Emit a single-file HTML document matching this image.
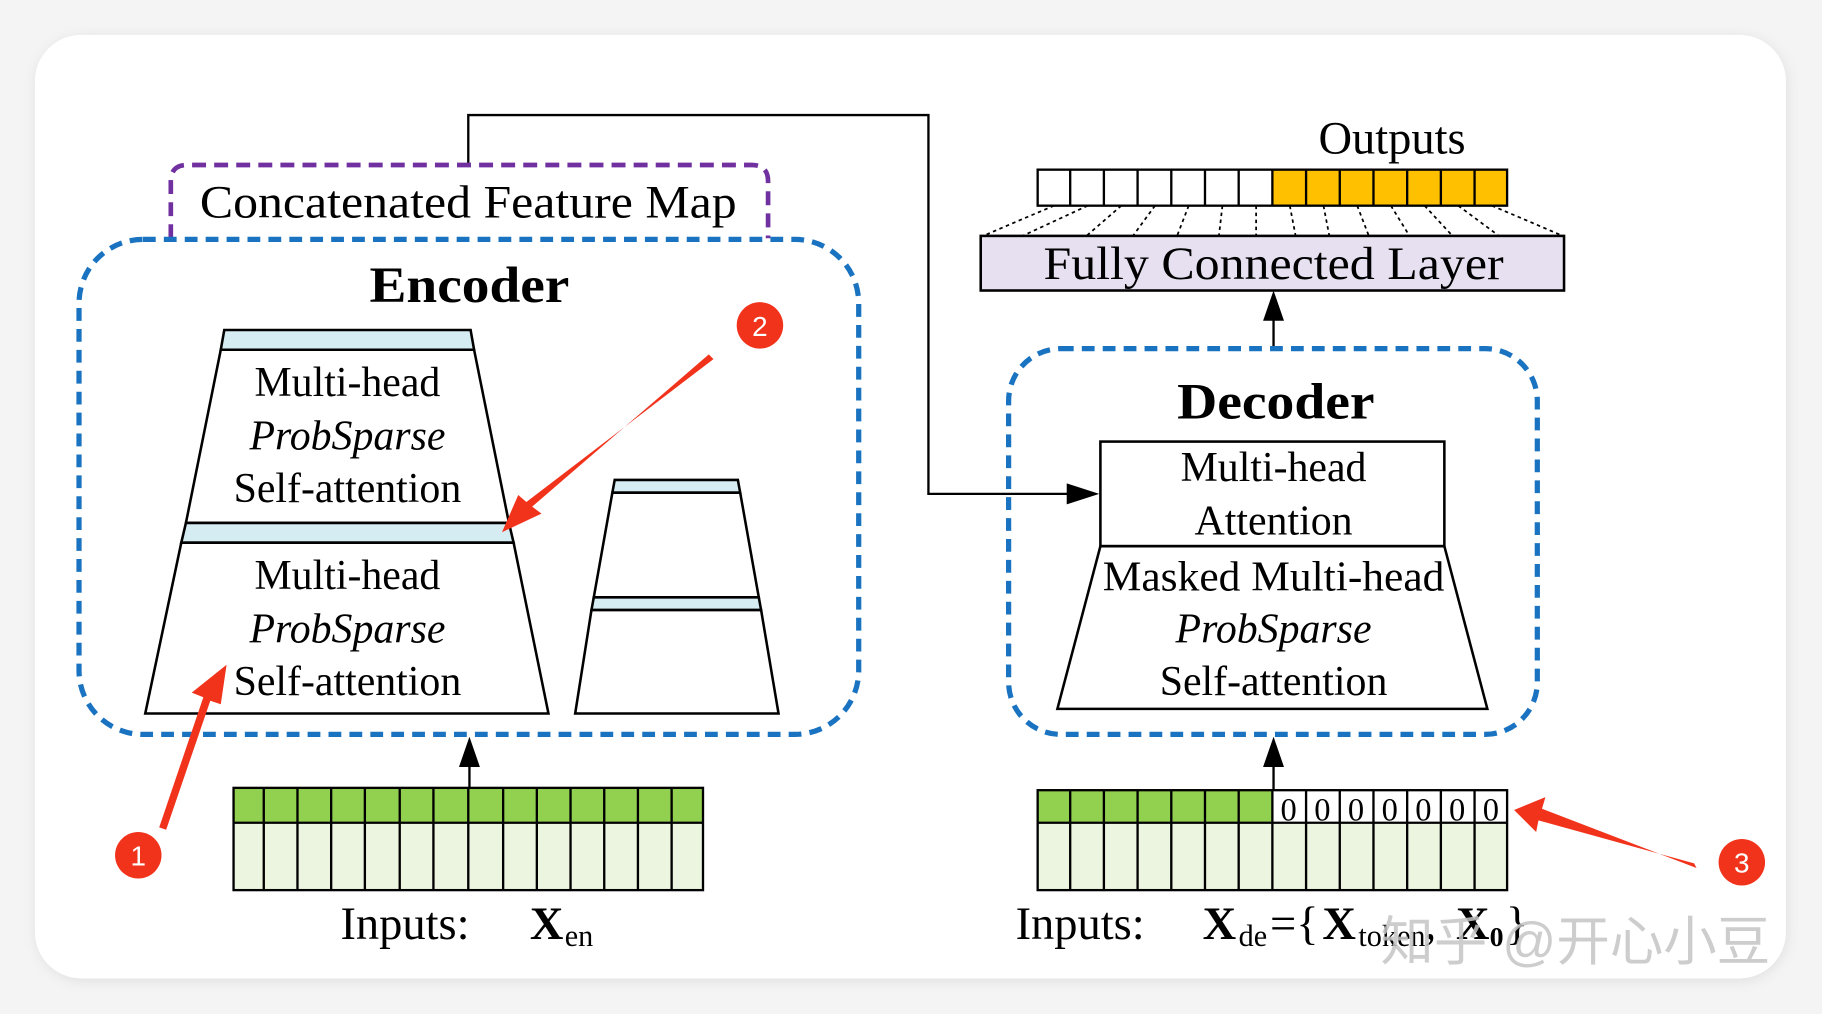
<!DOCTYPE html>
<html><head><meta charset="utf-8"><style>
html,body{margin:0;padding:0;background:#f4f4f4;}
svg{display:block;}
text{font-family:"Liberation Serif",serif;fill:#000;}
text.sans{font-family:"Liberation Sans",sans-serif;fill:#fff;}
text.wm{font-family:"Liberation Sans","Noto Sans CJK SC",sans-serif;fill:#c4c4c4;}
</style></head><body>
<svg width="1822" height="1014" viewBox="0 0 1568 872.6" preserveAspectRatio="none" xmlns="http://www.w3.org/2000/svg">
<defs>
<filter id="sh" x="-5%" y="-5%" width="110%" height="110%"><feGaussianBlur stdDeviation="6"/></filter>
</defs>
<rect x="0" y="0" width="1568" height="873" fill="#f4f4f4"/>
<rect x="32" y="33" width="1505" height="810" rx="40" fill="#dcdcdc" filter="url(#sh)"/>
<rect x="30" y="30" width="1507" height="812" rx="40" fill="#fff"/>

<polyline points="403,142 403,99 799,99 799,425 920,425" fill="none" stroke="#000" stroke-width="2"/>
<path d="M918,416 L946,425 L918,434 z" fill="#000"/>

<path d="M147,205 L147,156 Q147,142 161,142 L647,142 Q661,142 661,156 L661,205" fill="none" stroke="#7030a0" stroke-width="4" stroke-dasharray="12,7"/>
<text x="403" y="187" font-size="40" text-anchor="middle" textLength="462" lengthAdjust="spacingAndGlyphs">Concatenated Feature Map</text>

<rect x="68" y="206" width="671" height="426" rx="55" fill="none" stroke="#1a73c0" stroke-width="4.5" stroke-dasharray="11,7"/>
<text x="404" y="260" font-size="44" font-weight="bold" text-anchor="middle" textLength="172" lengthAdjust="spacingAndGlyphs">Encoder</text>

<g stroke="#000" stroke-width="2.2">
<polygon points="193,284 405,284 408,301 190,301" fill="#d6ecf3"/>
<polygon points="190,301 408,301 438,450 160,450" fill="#fff"/>
<polygon points="160,450 438,450 442,467 156,467" fill="#d6ecf3"/>
<polygon points="156,467 442,467 472,614 125,614" fill="#fff"/>
<polygon points="529,413 635,413 637,424 527,424" fill="#d6ecf3"/>
<polygon points="527,424 637,424 653,514 511,514" fill="#fff"/>
<polygon points="511,514 653,514 655,525 509,525" fill="#d6ecf3"/>
<polygon points="509,525 655,525 670,614 495,614" fill="#fff"/>
</g>
<g font-size="36" text-anchor="middle">
<text x="299" y="341">Multi-head</text>
<text x="299" y="387" font-style="italic">ProbSparse</text>
<text x="299" y="432">Self-attention</text>
<text x="299" y="507">Multi-head</text>
<text x="299" y="553" font-style="italic">ProbSparse</text>
<text x="299" y="598">Self-attention</text>
</g>

<line x1="404" y1="678" x2="404" y2="640" stroke="#000" stroke-width="2"/>
<path d="M395,660 L404,634 L413,660 z" fill="#000"/>
<rect x="201" y="678" width="404" height="30" fill="#92d050"/>
<rect x="201" y="708" width="404" height="58" fill="#ebf5df"/>
<g stroke="#000" stroke-width="2" fill="none">
<rect x="201" y="678" width="404" height="88"/>
<line x1="201" y1="708" x2="605" y2="708"/>
<path d="M227,678V766M256,678V766M285,678V766M314,678V766M344,678V766M373,678V766M403,678V766M433,678V766M462,678V766M491,678V766M520,678V766M549,678V766M578,678V766"/>
</g>
<text x="293" y="808" font-size="40">Inputs:</text>
<text x="456" y="808" font-size="40" font-weight="bold">X</text>
<text x="486" y="814" font-size="26">en</text>

<text x="1198" y="132" font-size="40" text-anchor="middle">Outputs</text>
<rect x="1095" y="146" width="202" height="31" fill="#ffc000"/>
<g stroke="#000" stroke-width="2" fill="none">
<rect x="893" y="146" width="404" height="31"/>
<path d="M921,146V177M950,146V177M979,146V177M1008,146V177M1037,146V177M1066,146V177M1095,146V177M1124,146V177M1153,146V177M1182,146V177M1211,146V177M1240,146V177M1269,146V177"/>
</g>
<g stroke="#000" stroke-width="1.5" stroke-dasharray="3,3">
<line x1="907" y1="177" x2="846" y2="203"/>
<line x1="936" y1="177" x2="880" y2="203"/>
<line x1="965" y1="177" x2="935" y2="203"/>
<line x1="994" y1="177" x2="975" y2="203"/>
<line x1="1023" y1="177" x2="1013" y2="203"/>
<line x1="1052" y1="177" x2="1049" y2="203"/>
<line x1="1081" y1="177" x2="1081" y2="203"/>
<line x1="1110" y1="177" x2="1115" y2="203"/>
<line x1="1139" y1="177" x2="1144" y2="203"/>
<line x1="1168" y1="177" x2="1178" y2="203"/>
<line x1="1197" y1="177" x2="1213" y2="203"/>
<line x1="1226" y1="177" x2="1250" y2="203"/>
<line x1="1255" y1="177" x2="1290" y2="203"/>
<line x1="1284" y1="177" x2="1345" y2="203"/>
</g>
<rect x="844" y="203" width="502" height="47" fill="#e6e0f0" stroke="#000" stroke-width="2.2"/>
<text x="1096" y="240" font-size="40" text-anchor="middle" textLength="396" lengthAdjust="spacingAndGlyphs">Fully Connected Layer</text>
<line x1="1096" y1="300" x2="1096" y2="270" stroke="#000" stroke-width="2"/>
<path d="M1087,276 L1096,250 L1105,276 z" fill="#000"/>

<rect x="868" y="300" width="455" height="332" rx="45" fill="none" stroke="#1a73c0" stroke-width="4.5" stroke-dasharray="11,7"/>
<text x="1098" y="360" font-size="44" font-weight="bold" text-anchor="middle" textLength="170" lengthAdjust="spacingAndGlyphs">Decoder</text>
<g stroke="#000" stroke-width="2.2" fill="#fff">
<rect x="947" y="380" width="296" height="90"/>
<polygon points="947,470 1243,470 1280,610 910,610"/>
</g>
<g font-size="36" text-anchor="middle">
<text x="1096" y="414">Multi-head</text>
<text x="1096" y="460">Attention</text>
<text x="1096" y="508" textLength="294" lengthAdjust="spacingAndGlyphs">Masked Multi-head</text>
<text x="1096" y="553" font-style="italic">ProbSparse</text>
<text x="1096" y="598">Self-attention</text>
</g>

<line x1="1096" y1="680" x2="1096" y2="640" stroke="#000" stroke-width="2"/>
<path d="M1087,660 L1096,634 L1105,660 z" fill="#000"/>
<rect x="893" y="680" width="202" height="28" fill="#92d050"/>
<rect x="893" y="708" width="404" height="58" fill="#ebf5df"/>
<g stroke="#000" stroke-width="2" fill="none">
<rect x="893" y="680" width="404" height="86"/>
<line x1="893" y1="708" x2="1297" y2="708"/>
<path d="M921,680V766M950,680V766M979,680V766M1008,680V766M1037,680V766M1066,680V766M1095,680V766M1124,680V766M1153,680V766M1182,680V766M1211,680V766M1240,680V766M1269,680V766"/>
</g>
<g font-size="28" text-anchor="middle">
<text x="1109" y="706">0</text><text x="1138" y="706">0</text><text x="1167" y="706">0</text><text x="1196" y="706">0</text><text x="1225" y="706">0</text><text x="1254" y="706">0</text><text x="1283" y="706">0</text>
</g>
<text x="874" y="808" font-size="40">Inputs:</text>
<text x="1035" y="808" font-size="40" font-weight="bold">X</text>
<text x="1066" y="814" font-size="26">de</text>
<text x="1093" y="808" font-size="40">={</text>
<text x="1138" y="808" font-size="40" font-weight="bold">X</text>
<text x="1169" y="814" font-size="26">token</text>
<text x="1226" y="808" font-size="40">, </text>
<text x="1253" y="808" font-size="40" font-weight="bold">X</text>
<text x="1282" y="814" font-size="24" font-weight="bold">0</text>
<text x="1296" y="808" font-size="40">}</text>
<text class="wm" x="1188" y="826" font-size="46" fill-opacity="0.85">知乎 @开心小豆</text>

<g fill="#f2331c">
<path d="M137,712 L175,600 L165,596 L195,572 L190,606 L181,603 L143,714 z"/>
<path d="M610,305 L458,436 L466,442 L432,458 L446,426 L453,432 L614,309 z"/>
<path d="M1458,743 L1324,706 L1322,716 L1303,697 L1330,686 L1327,696 L1460,747 z"/>
<circle cx="119" cy="736" r="20"/>
<circle cx="654" cy="280" r="20"/>
<circle cx="1499" cy="742" r="20"/>
</g>
<text class="sans" x="119" y="745" font-size="24" text-anchor="middle">1</text>
<text class="sans" x="654" y="289" font-size="24" text-anchor="middle">2</text>
<text class="sans" x="1499" y="751" font-size="24" text-anchor="middle">3</text>
</svg>
</body></html>
